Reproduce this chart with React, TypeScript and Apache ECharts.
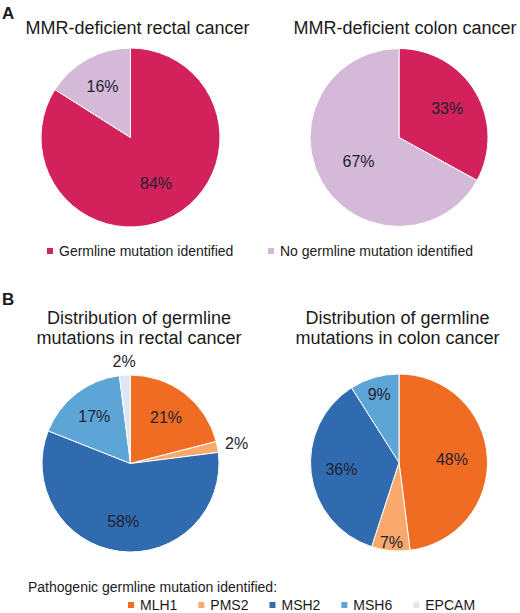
import React, { useEffect, useRef } from "react";
import * as echarts from "echarts";

const FONT = "'Liberation Sans', Arial, Helvetica, sans-serif";

// ---- data ----
const statusNames = ["Germline mutation identified", "No germline mutation identified"];
const rectalStatus = [84, 16];
const colonStatus = [33, 67];

const geneNames = ["MLH1", "PMS2", "MSH2", "MSH6", "EPCAM"];
const rectalGenes = [21, 2, 58, 17, 2];
const colonGenes = [48, 7, 36, 9, 0];

const panelTitles = [
  "MMR-deficient rectal cancer",
  "MMR-deficient colon cancer",
];
const bTitleLeft = "Distribution of germline\nmutations in rectal cancer";
const bTitleRight = "Distribution of germline\nmutations in colon cancer";
const geneLegendTitle = "Pathogenic germline mutation identified:";

// ---- styles ----
const statusColors = ["#D2215B", "#D5B9D8"];
const geneColors = ["#F06C23", "#F8A96B", "#2F6BAE", "#5EA5D7", "#DCE7F3"];

type PieCfg = {
  center: [number, number];
  r: number;
  names: string[];
  values: number[];
  colors: string[];
  labelDist: number[];
};

const pies: PieCfg[] = [
  { center: [130.5, 137.5], r: 89.5, names: statusNames, values: rectalStatus, colors: statusColors, labelDist: [50, 55] },
  { center: [399, 137.5], r: 89, names: statusNames, values: colonStatus, colors: statusColors, labelDist: [53, 44] },
  { center: [130.5, 463.5], r: 88.5, names: geneNames, values: rectalGenes, colors: geneColors, labelDist: [55, 105, 55, 56, 99] },
  { center: [399, 462.5], r: 88.5, names: geneNames, values: colonGenes, colors: geneColors, labelDist: [50, 77, 55, 68, 0] },
];

function buildSeries() {
  const mains: any[] = [];
  const overlays: any[] = [];
  pies.forEach((p) => {
    const items = p.names
      .map((n, i) => ({ name: n, value: p.values[i], color: p.colors[i], dist: p.labelDist[i] }))
      .filter((d) => d.value > 0);
    mains.push({
      type: "pie",
      center: p.center,
      radius: [0, p.r],
      startAngle: 90,
      clockwise: true,
      silent: true,
      label: { show: false },
      labelLine: { show: false },
      emphasis: { disabled: true },
      itemStyle: { borderColor: "#ffffff", borderWidth: 1 },
      data: items.map((d) => ({ name: d.name, value: d.value, itemStyle: { color: d.color } })),
    });
    items.forEach((it, k) => {
      overlays.push({
        type: "pie",
        center: p.center,
        radius: [0, it.dist * 2],
        startAngle: 90,
        clockwise: true,
        silent: true,
        emphasis: { disabled: true },
        labelLine: { show: false },
        itemStyle: { color: "rgba(0,0,0,0)", borderWidth: 0 },
        data: items.map((d, j) => ({
          name: d.name,
          value: d.value,
          label: {
            show: j === k,
            position: "inside",
            formatter: "{c}%",
            color: "#222230",
            fontSize: 16,
            fontFamily: FONT,
          },
        })),
      });
    });
  });
  return [...mains, ...overlays];
}

function txt(text: string, x: number, y: number, size: number, align = "center", weight = "normal", lineHeight?: number) {
  return {
    type: "text",
    x,
    y,
    silent: true,
    style: {
      text,
      fill: "#1a1a1a",
      font: `${weight} ${size}px ${FONT}`,
      textAlign: align,
      textVerticalAlign: "middle",
      lineHeight: lineHeight ?? size,
    },
  };
}

export default function App() {
  const ref = useRef<HTMLDivElement>(null);
  useEffect(() => {
    if (!ref.current) return;
    const chart = echarts.init(ref.current, undefined, { renderer: "svg" });
    const legendText = { fontSize: 14, lineHeight: 14, fontFamily: FONT, color: "#1a1a1a" };
    chart.setOption({
      animation: false,
      backgroundColor: "#ffffff",
      legend: [
        {
          left: 45, top: 244, padding: 0, icon: "rect", itemWidth: 8, itemHeight: 8,
          selectedMode: false, data: [statusNames[0]], textStyle: legendText,
        },
        {
          left: 266, top: 244, padding: 0, icon: "rect", itemWidth: 8, itemHeight: 8,
          selectedMode: false, data: [statusNames[1]], textStyle: legendText,
        },
        {
          left: 126, top: 598, padding: 0, icon: "rect", itemWidth: 8, itemHeight: 8, itemGap: 19,
          selectedMode: false, data: geneNames, textStyle: legendText,
        },
      ],
      graphic: [
        txt("A", 2, 13, 17, "left", "bold"),
        txt("B", 2, 299, 17, "left", "bold"),
        txt(panelTitles[0], 137.5, 28, 18),
        txt(panelTitles[1], 405, 28, 18),
        txt(bTitleLeft, 139, 328, 18, "center", "normal", 20),
        txt(bTitleRight, 397.5, 328, 18, "center", "normal", 20),
        txt(geneLegendTitle, 28, 587, 14, "left"),
      ],
      series: buildSeries(),
    });
    return () => chart.dispose();
  }, []);
  return (
    <div
      ref={ref}
      style={{ position: "fixed", left: 0, top: 0, width: 520, height: 613, background: "#fff" }}
    />
  );
}
